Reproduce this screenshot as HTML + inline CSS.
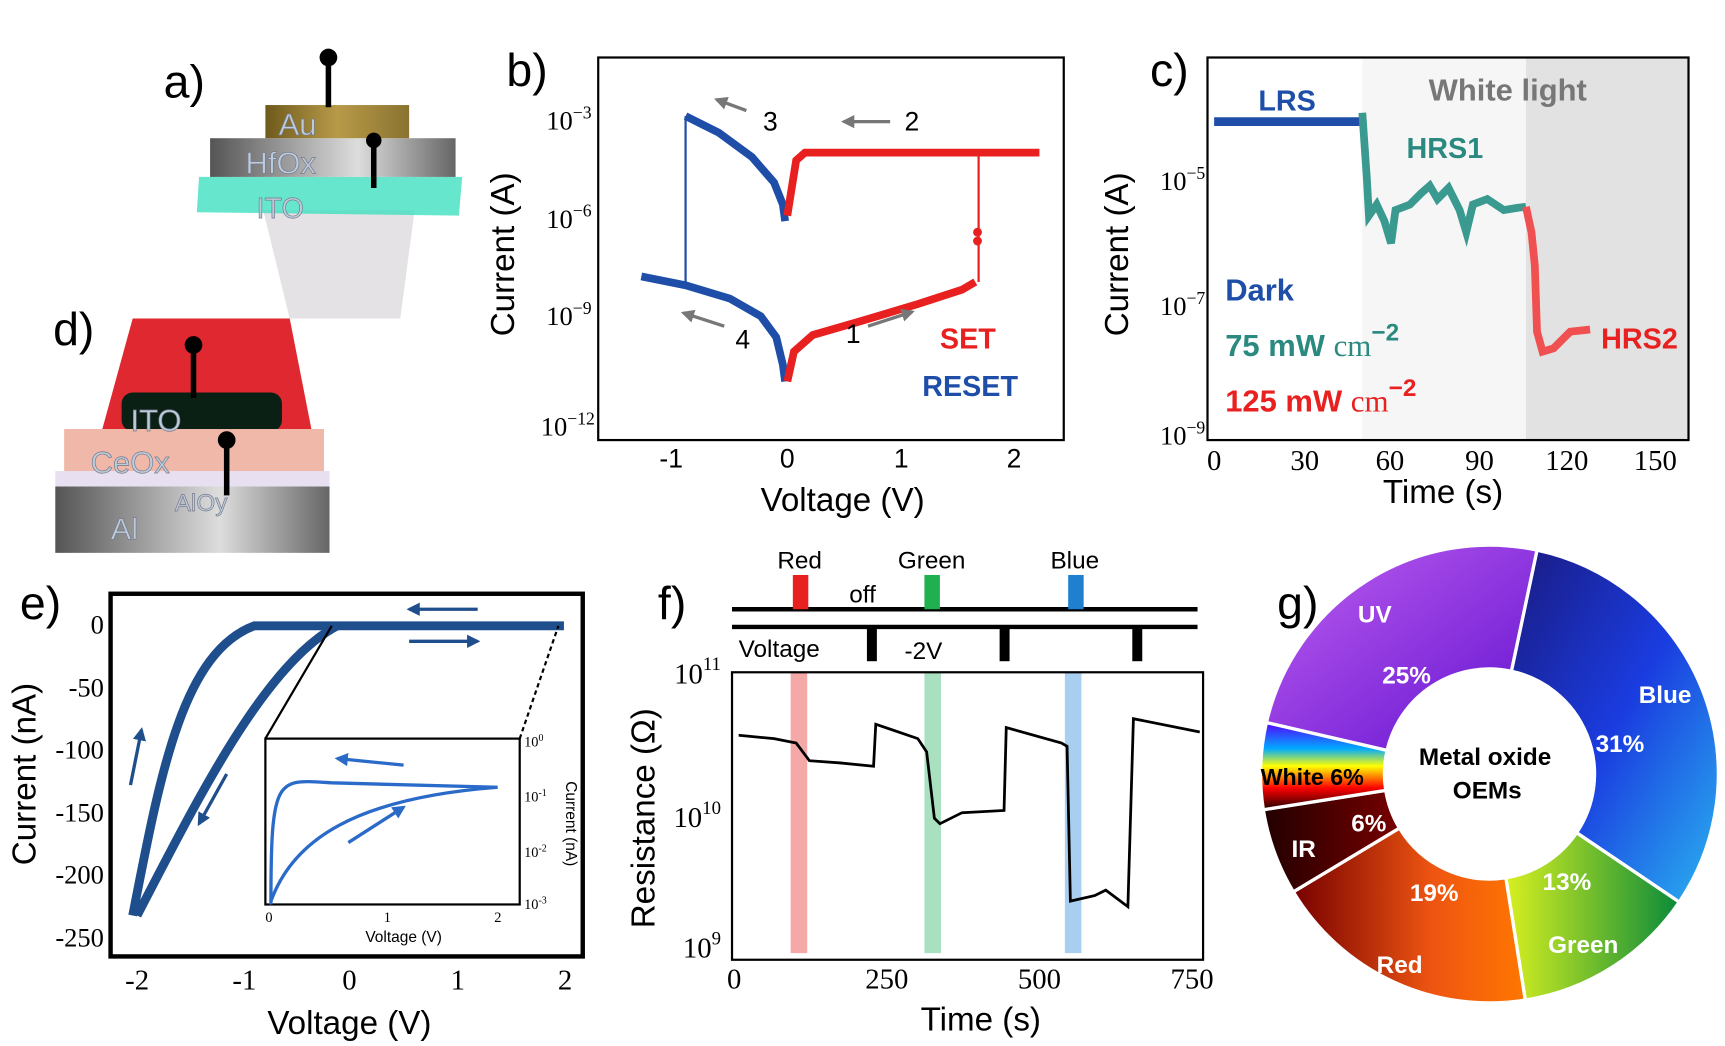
<!DOCTYPE html>
<html><head><meta charset="utf-8"><style>
html,body{margin:0;padding:0;background:#fff;}
svg{display:block;font-family:"Liberation Sans",sans-serif;}
.s{font-family:"Liberation Serif",serif;}
</style></head><body>
<svg width="1725" height="1046" viewBox="0 0 1560 946" preserveAspectRatio="none" xmlns="http://www.w3.org/2000/svg">
<defs>
<marker id="ag" viewBox="0 0 10 10" refX="8" refY="5" markerWidth="4" markerHeight="4" orient="auto"><path d="M0,0 L10,5 L0,10 Z" fill="#777"/></marker>
<marker id="ab" viewBox="0 0 10 10" refX="8" refY="5" markerWidth="4" markerHeight="4" orient="auto"><path d="M0,0 L10,5 L0,10 Z" fill="#1f4e8c"/></marker>
<marker id="ai" viewBox="0 0 10 10" refX="8" refY="5" markerWidth="4" markerHeight="4" orient="auto"><path d="M0,0 L10,5 L0,10 Z" fill="#2a6ac8"/></marker>
<linearGradient id="au" x1="0" x2="1"><stop offset="0" stop-color="#6e5a1c"/><stop offset=".5" stop-color="#b89a48"/><stop offset="1" stop-color="#8a7330"/></linearGradient>
<linearGradient id="gr" x1="0" x2="1"><stop offset="0" stop-color="#555"/><stop offset=".6" stop-color="#ddd"/><stop offset="1" stop-color="#666"/></linearGradient>
<linearGradient id="gblue" x1="0" y1="0" x2="1" y2="1"><stop offset="0" stop-color="#1a1a80"/><stop offset=".5" stop-color="#1a3ce0"/><stop offset="1" stop-color="#2ab4f0"/></linearGradient>
<linearGradient id="ggreen" x1="0" x2="1"><stop offset="0" stop-color="#d8f020"/><stop offset="1" stop-color="#0a8a3a"/></linearGradient>
<linearGradient id="gred" x1="0" x2="1"><stop offset="0" stop-color="#700"/><stop offset=".6" stop-color="#e51"/><stop offset="1" stop-color="#f70"/></linearGradient>
<linearGradient id="gir" x1="0" x2="1"><stop offset="0" stop-color="#200"/><stop offset="1" stop-color="#700"/></linearGradient>
<linearGradient id="gwh" x1="0" y1="0" x2="0" y2="1"><stop offset="0" stop-color="#50f"/><stop offset=".3" stop-color="#0af"/><stop offset=".5" stop-color="#ff0"/><stop offset=".75" stop-color="#f00"/><stop offset="1" stop-color="#200"/></linearGradient>
<linearGradient id="guv" x1="0" y1="0" x2="1" y2="1"><stop offset="0" stop-color="#c060f0"/><stop offset="1" stop-color="#6010d0"/></linearGradient>
</defs>

<!-- a) -->
<text x="148" y="88" font-size="42">a)</text>
<polygon points="238,190 375,190 362,288 262,288" fill="#e4e2e4"/>
<polygon points="180,160 418,160 415,195 178,192" fill="#40e0c0" opacity=".8"/>
<rect x="190" y="125" width="222" height="35" fill="url(#gr)"/>
<rect x="240" y="95" width="130" height="30" fill="url(#au)"/>
<line x1="297" y1="50" x2="297" y2="97" stroke="#000" stroke-width="5"/><circle cx="297" cy="52" r="8"/>
<line x1="338" y1="128" x2="338" y2="170" stroke="#000" stroke-width="5"/><circle cx="338" cy="127" r="7"/>
<text x="252" y="122" font-size="28" fill="#bcd" stroke="#778" stroke-width=".6">Au</text>
<text x="222" y="157" font-size="28" fill="#bcd" stroke="#778" stroke-width=".6">HfOx</text>
<text x="232" y="197" font-size="26" fill="#bcd" stroke="#778" stroke-width=".6">ITO</text>

<!-- d) -->
<text x="48" y="312" font-size="42">d)</text>
<polygon points="120,288 262,288 282,390 92,390" fill="#e02830"/>
<rect x="110" y="355" width="145" height="35" rx="10" fill="#0a2014"/>
<rect x="58" y="388" width="235" height="40" fill="#f0b8a8"/>
<rect x="50" y="426" width="248" height="14" fill="#e8e0f0"/>
<rect x="50" y="440" width="248" height="60" fill="url(#gr)"/>
<line x1="175" y1="310" x2="175" y2="360" stroke="#000" stroke-width="5"/><circle cx="175" cy="312" r="8"/>
<line x1="205" y1="395" x2="205" y2="448" stroke="#000" stroke-width="5"/><circle cx="205" cy="398" r="8"/>
<text x="118" y="390" font-size="28" fill="#bcd" stroke="#778" stroke-width=".6">ITO</text>
<text x="82" y="428" font-size="28" fill="#bcd" stroke="#778" stroke-width=".6">CeOx</text>
<text x="100" y="488" font-size="28" fill="#bcd" stroke="#778" stroke-width=".6">Al</text>
<text x="158" y="462" font-size="22" fill="#bcd" stroke="#778" stroke-width=".6">AlOy</text>

<!-- b) -->
<text x="458" y="78" font-size="42">b)</text>
<rect x="541" y="52" width="421" height="346" fill="none" stroke="#000" stroke-width="2"/>
<g class="s" font-size="24" text-anchor="end">
<text x="535" y="117">10<tspan dy="-10" font-size="16">−3</tspan></text>
<text x="535" y="206">10<tspan dy="-10" font-size="16">−6</tspan></text>
<text x="535" y="294">10<tspan dy="-10" font-size="16">−9</tspan></text>
<text x="538" y="394">10<tspan dy="-10" font-size="16">−12</tspan></text>
</g>
<g font-size="24" text-anchor="middle"><text x="607" y="423">-1</text><text x="712" y="423">0</text><text x="815" y="423">1</text><text x="917" y="423">2</text></g>
<text x="762" y="462" font-size="30" text-anchor="middle">Voltage (V)</text>
<text transform="translate(465,230) rotate(-90)" font-size="30" text-anchor="middle">Current (A)</text>
<line x1="620" y1="105" x2="620" y2="258" stroke="#1e4ea8" stroke-width="2"/>
<line x1="885" y1="138" x2="885" y2="255" stroke="#e82020" stroke-width="2"/>
<polyline points="580,250 620,258 660,270 688,286 702,305 708,330 710,345" fill="none" stroke="#1e4ea8" stroke-width="7"/>
<polyline points="620,105 650,120 680,142 700,165 708,185 710,200" fill="none" stroke="#1e4ea8" stroke-width="7"/>
<polyline points="712,345 718,318 735,303 780,290 830,275 870,262 882,255" fill="none" stroke="#e82020" stroke-width="7"/>
<polyline points="712,195 720,145 728,138 940,138" fill="none" stroke="#e82020" stroke-width="7"/>
<circle cx="884" cy="210" r="4" fill="#e82020"/><circle cx="884" cy="218" r="4" fill="#e82020"/>
<g stroke="#777" stroke-width="3">
<line x1="675" y1="100" x2="648" y2="90" marker-end="url(#ag)"/><line x1="805" y1="110" x2="763" y2="110" marker-end="url(#ag)"/>
<line x1="655" y1="295" x2="618" y2="283" marker-end="url(#ag)"/><line x1="785" y1="295" x2="825" y2="282" marker-end="url(#ag)"/>
</g>
<g font-size="24"><text x="690" y="118">3</text><text x="818" y="118">2</text><text x="665" y="315">4</text><text x="765" y="310">1</text></g>
<text x="850" y="315" font-size="26" font-weight="bold" fill="#e82020">SET</text>
<text x="834" y="358" font-size="26" font-weight="bold" fill="#1e4ea8">RESET</text>

<!-- c) -->
<text x="1040" y="78" font-size="42">c)</text>
<rect x="1232" y="52" width="148" height="346" fill="#f6f6f6"/>
<rect x="1380" y="52" width="147" height="346" fill="#e2e2e2"/>
<rect x="1092" y="52" width="435" height="346" fill="none" stroke="#000" stroke-width="2"/>
<g class="s" font-size="24" text-anchor="end">
<text x="1090" y="172">10<tspan dy="-10" font-size="16">−5</tspan></text>
<text x="1090" y="285">10<tspan dy="-10" font-size="16">−7</tspan></text>
<text x="1090" y="402">10<tspan dy="-10" font-size="16">−9</tspan></text>
</g>
<g class="s" font-size="26" text-anchor="middle"><text x="1098" y="425">0</text><text x="1180" y="425">30</text><text x="1257" y="425">60</text><text x="1338" y="425">90</text><text x="1417" y="425">120</text><text x="1497" y="425">150</text></g>
<text x="1305" y="455" font-size="30" text-anchor="middle">Time (s)</text>
<text transform="translate(1020,230) rotate(-90)" font-size="30" text-anchor="middle">Current (A)</text>
<line x1="1098" y1="110" x2="1230" y2="110" stroke="#1e4ea8" stroke-width="8"/>
<polyline points="1232,102 1236,160 1238,195 1245,185 1252,200 1258,220 1262,190 1275,185 1285,175 1293,168 1300,180 1310,170 1320,190 1326,210 1332,185 1345,180 1360,190 1372,188 1380,187" fill="none" stroke="#3a9a90" stroke-width="7"/>
<polyline points="1380,187 1385,210 1388,240 1390,300 1395,318 1405,315 1420,300 1438,298" fill="none" stroke="#f05050" stroke-width="7"/>
<text x="1292" y="91" font-size="28" font-weight="bold" fill="#777">White light</text>
<text x="1138" y="100" font-size="26" font-weight="bold" fill="#1e4ea8">LRS</text>
<text x="1272" y="143" font-size="26" font-weight="bold" fill="#2a8a80">HRS1</text>
<text x="1448" y="315" font-size="26" font-weight="bold" fill="#e82020">HRS2</text>
<text x="1108" y="272" font-size="28" font-weight="bold" fill="#1e4ea8">Dark</text>
<text x="1108" y="322" font-size="28" font-weight="bold" fill="#2a8a80">75 mW <tspan class="s" font-weight="normal">cm</tspan><tspan dy="-14" font-size="22">−2</tspan></text>
<text x="1108" y="372" font-size="28" font-weight="bold" fill="#e82020">125 mW <tspan class="s" font-weight="normal">cm</tspan><tspan dy="-14" font-size="22">−2</tspan></text>

<!-- e) -->
<text x="18" y="560" font-size="42">e)</text>
<rect x="100" y="537" width="427" height="328" fill="none" stroke="#000" stroke-width="4"/>
<g class="s" font-size="24" text-anchor="end">
<text x="94" y="573">0</text><text x="94" y="630">-50</text><text x="94" y="686">-100</text><text x="94" y="743">-150</text><text x="94" y="799">-200</text><text x="94" y="856">-250</text></g>
<g class="s" font-size="26" text-anchor="middle"><text x="124" y="895">-2</text><text x="221" y="895">-1</text><text x="316" y="895">0</text><text x="414" y="895">1</text><text x="511" y="895">2</text></g>
<text x="316" y="935" font-size="30" text-anchor="middle">Voltage (V)</text>
<text transform="translate(32,700) rotate(-90)" font-size="30" text-anchor="middle">Current (nA)</text>
<path d="M120,828 C145,700 165,590 230,566 L510,566" fill="none" stroke="#1f4e8c" stroke-width="8"/>
<path d="M124,828 C180,720 240,600 305,566" fill="none" stroke="#1f4e8c" stroke-width="8"/>
<g stroke="#1f4e8c" stroke-width="3"><line x1="432" y1="551" x2="370" y2="551" marker-end="url(#ab)"/><line x1="370" y1="580" x2="432" y2="580" marker-end="url(#ab)"/><line x1="118" y1="710" x2="128" y2="660" marker-end="url(#ab)"/><line x1="205" y1="700" x2="180" y2="745" marker-end="url(#ab)"/></g>
<line x1="240" y1="668" x2="300" y2="566" stroke="#000" stroke-width="2"/><line x1="470" y1="668" x2="505" y2="566" stroke="#000" stroke-width="2" stroke-dasharray="4,3"/>
<rect x="240" y="668" width="230" height="150" fill="#fff" stroke="#000" stroke-width="2"/>
<path d="M245,818 C245,700 250,705 300,708 L450,712" fill="none" stroke="#2a6ac8" stroke-width="3"/>
<path d="M245,815 C265,760 320,722 450,712" fill="none" stroke="#2a6ac8" stroke-width="3"/>
<line x1="365" y1="692" x2="305" y2="686" stroke="#2a6ac8" stroke-width="3" marker-end="url(#ai)"/><line x1="315" y1="762" x2="365" y2="730" stroke="#2a6ac8" stroke-width="3" marker-end="url(#ai)"/>
<g class="s" font-size="13"><text x="240" y="834">0</text><text x="347" y="834">1</text><text x="447" y="834">2</text>
<text x="474" y="675">10<tspan dy="-5" font-size="9">0</tspan></text><text x="474" y="725">10<tspan dy="-5" font-size="9">-1</tspan></text><text x="474" y="775">10<tspan dy="-5" font-size="9">-2</tspan></text><text x="474" y="822">10<tspan dy="-5" font-size="9">-3</tspan></text></g>
<text x="365" y="852" font-size="14" text-anchor="middle">Voltage (V)</text>
<text transform="translate(512,745) rotate(90)" font-size="14" text-anchor="middle">Current (nA)</text>

<!-- f) -->
<text x="595" y="560" font-size="42">f)</text>
<line x1="662" y1="551" x2="1083" y2="551" stroke="#000" stroke-width="4"/>
<line x1="662" y1="567" x2="1083" y2="567" stroke="#000" stroke-width="4"/>
<rect x="717" y="520" width="14" height="31" fill="#e82020"/><rect x="836" y="520" width="14" height="31" fill="#20b050"/><rect x="966" y="520" width="14" height="31" fill="#2080d0"/>
<rect x="784" y="567" width="9" height="31"/><rect x="904" y="567" width="9" height="31"/><rect x="1024" y="567" width="9" height="31"/>
<g font-size="22"><text x="703" y="514">Red</text><text x="812" y="514">Green</text><text x="950" y="514">Blue</text><text x="768" y="545">off</text><text x="668" y="594">Voltage</text><text x="818" y="596">-2V</text></g>
<rect x="715" y="608" width="15" height="254" fill="#f5a8a8"/><rect x="836" y="608" width="15" height="254" fill="#a8e0c0"/><rect x="963" y="608" width="15" height="254" fill="#a8cff0"/>
<rect x="662" y="608" width="426" height="260" fill="none" stroke="#000" stroke-width="2"/>
<polyline points="668,665 700,668 720,672 732,688 760,690 790,693 792,655 830,668 838,680 845,740 850,745 870,735 908,733 910,658 960,672 965,675 968,815 990,810 1000,805 1020,820 1025,650 1085,662" fill="none" stroke="#000" stroke-width="2.5"/>
<g class="s" font-size="26" text-anchor="end"><text x="652" y="618">10<tspan dy="-12" font-size="17">11</tspan></text><text x="652" y="748">10<tspan dy="-12" font-size="17">10</tspan></text><text x="652" y="866">10<tspan dy="-12" font-size="17">9</tspan></text></g>
<g class="s" font-size="26" text-anchor="middle"><text x="664" y="894">0</text><text x="802" y="894">250</text><text x="940" y="894">500</text><text x="1078" y="894">750</text></g>
<text x="887" y="932" font-size="30" text-anchor="middle">Time (s)</text>
<text transform="translate(592,740) rotate(-90)" font-size="30" text-anchor="middle">Resistance (Ω)</text>

<!-- g) -->
<text x="1155" y="560" font-size="42">g)</text>
<g stroke="#fff" stroke-width="3">
<path d="M1390,497.5 A207,207 0 0 1 1518.6,815.8 L1425.8,753.1 A95,95 0 0 0 1366.8,607.1 Z" fill="url(#gblue)"/>
<path d="M1518.6,815.8 A207,207 0 0 1 1379.4,904.5 L1361.8,793.8 A95,95 0 0 0 1425.8,753.1 Z" fill="url(#ggreen)"/>
<path d="M1379.4,904.5 A207,207 0 0 1 1169.6,806.6 L1265.6,748.9 A95,95 0 0 0 1361.8,793.8 Z" fill="url(#gred)"/>
<path d="M1169.6,806.6 A207,207 0 0 1 1142.5,732.3 L1253.2,714.8 A95,95 0 0 0 1265.6,748.9 Z" fill="url(#gir)"/>
<path d="M1142.5,732.3 A207,207 0 0 1 1145.3,653.4 L1254.4,678.6 A95,95 0 0 0 1253.2,714.8 Z" fill="url(#gwh)"/>
<path d="M1145.3,653.4 A207,207 0 0 1 1390,497.5 L1366.8,607.1 A95,95 0 0 0 1254.4,678.6 Z" fill="url(#guv)"/>
</g>
<g font-size="22" font-weight="bold" fill="#fff">
<text x="1228" y="563">UV</text><text x="1250" y="618">25%</text><text x="1482" y="636">Blue</text><text x="1443" y="680">31%</text>
<text x="1395" y="805">13%</text><text x="1400" y="862">Green</text><text x="1275" y="815">19%</text><text x="1245" y="880">Red</text>
<text x="1168" y="775">IR</text><text x="1222" y="752">6%</text></g>
<text x="1140" y="710" font-size="21" font-weight="bold" fill="#000">White 6%</text>
<text x="1343" y="692" font-size="22" font-weight="bold" text-anchor="middle">Metal oxide</text>
<text x="1345" y="722" font-size="22" font-weight="bold" text-anchor="middle">OEMs</text>
</svg>
</body></html>
